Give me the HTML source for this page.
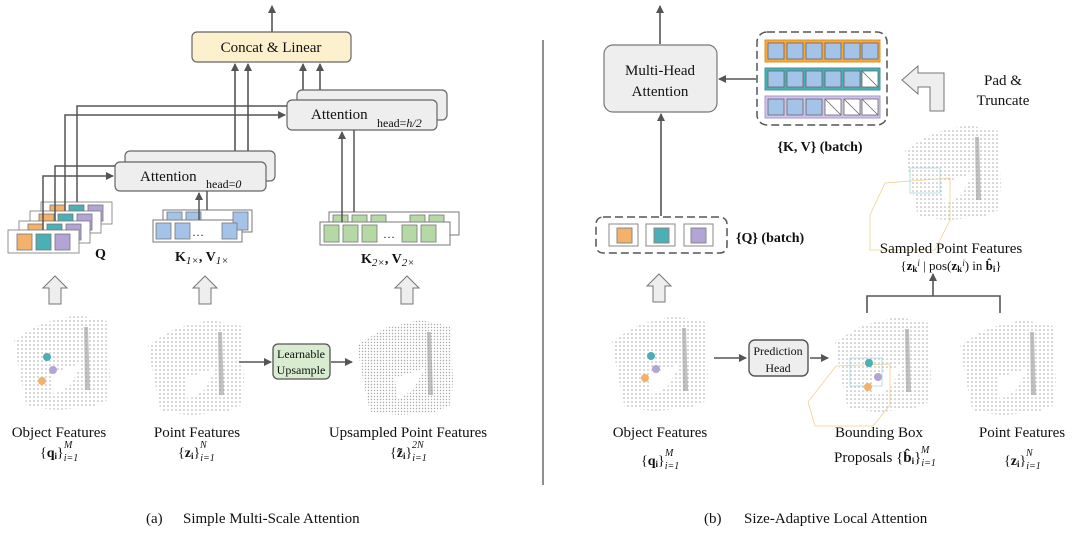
<!DOCTYPE html>
<html><head><meta charset="utf-8"><style>
body{margin:0;background:#fff}
svg{display:block}
text{font-family:"Liberation Serif",serif;fill:#111;white-space:pre}
</style></head><body>
<svg width="1080" height="533" viewBox="0 0 1080 533" xmlns="http://www.w3.org/2000/svg" xml:space="preserve">
<defs>
<marker id="ah" markerWidth="8" markerHeight="8" refX="7" refY="4" orient="auto" markerUnits="userSpaceOnUse"><path d="M0,0 L8,4 L0,8 z" fill="#555"/></marker>
<pattern id="dots" width="4" height="4" patternUnits="userSpaceOnUse"><circle cx="2" cy="2" r="0.8" fill="#aaa"/></pattern>
<pattern id="dots2" width="3" height="3" patternUnits="userSpaceOnUse"><circle cx="1.5" cy="1.5" r="0.7" fill="#aaa"/></pattern>
<g id="cloud">
<path d="M2,25 L30,8 L65,0 L95,6 L98,60 L96,85 L80,92 L45,95 L15,92 L8,60 Z" fill="url(#dots)"/>
<path d="M40,58 L70,48 L58,70 L42,80 Z" fill="#fff"/>
<path d="M72,12 L76,12 L78,75 L73,75 Z" fill="#999" opacity=".6"/>
</g>
<g id="cloud2">
<path d="M2,25 L30,8 L65,0 L95,6 L98,60 L96,85 L80,92 L45,95 L15,92 L8,60 Z" fill="url(#dots2)"/>
<path d="M40,58 L70,48 L58,70 L42,80 Z" fill="#fff"/>
<path d="M72,12 L76,12 L78,75 L73,75 Z" fill="#999" opacity=".6"/>
</g>
<g id="bigarrow"><path d="M-6,28 L-6,12 L-12,12 L0,0 L12,12 L6,12 L6,28 Z" fill="#eee" stroke="#777" stroke-width="1"/></g>
</defs>

<g stroke="#555" stroke-width="1.6" fill="none">
<line x1="272" y1="32" x2="272" y2="6" marker-end="url(#ah)"/>
<line x1="235" y1="155" x2="235" y2="64" marker-end="url(#ah)"/>
<line x1="248" y1="151" x2="248" y2="64" marker-end="url(#ah)"/>
<line x1="303" y1="100" x2="303" y2="64" marker-end="url(#ah)"/>
<line x1="320" y1="90" x2="320" y2="64" marker-end="url(#ah)"/>
</g>
<rect x="192" y="32" width="159" height="30" rx="5" fill="#fdf0cc" stroke="#666" stroke-width="1.2"/>
<text x="271" y="52" font-size="15" text-anchor="middle">Concat &amp; Linear</text>

<rect x="297" y="90" width="150" height="30" rx="5" fill="#eee" stroke="#666" stroke-width="1.2"/>
<rect x="287" y="100" width="150" height="30" rx="5" fill="#eee" stroke="#666" stroke-width="1.2"/>
<text x="311" y="119" font-size="15">Attention</text><text x="377" y="127" font-size="12">head=<tspan font-style="italic">h/2</tspan></text>
<rect x="125" y="151" width="150" height="30" rx="5" fill="#eee" stroke="#666" stroke-width="1.2"/>
<rect x="115" y="162" width="151" height="29" rx="5" fill="#eee" stroke="#666" stroke-width="1.2"/>
<text x="140" y="181" font-size="15">Attention</text><text x="206" y="188" font-size="12">head=<tspan font-style="italic">0</tspan></text>

<!-- Q stacks -->
<g stroke="#777" stroke-width="0.8">
<rect x="41" y="202" width="71" height="22" fill="#fff"/>
<rect x="50" y="205" width="15" height="16" fill="#f4b16c"/><rect x="69" y="205" width="15" height="16" fill="#4bafb6"/><rect x="88" y="205" width="15" height="16" fill="#b3a3d6"/>
<rect x="30" y="211" width="71" height="22" fill="#fff"/>
<rect x="39" y="214" width="15" height="16" fill="#f4b16c"/><rect x="58" y="214" width="15" height="16" fill="#4bafb6"/><rect x="77" y="214" width="15" height="16" fill="#b3a3d6"/>
<rect x="19" y="221" width="71" height="22" fill="#fff"/>
<rect x="28" y="224" width="15" height="16" fill="#f4b16c"/><rect x="47" y="224" width="15" height="16" fill="#4bafb6"/><rect x="66" y="224" width="15" height="16" fill="#b3a3d6"/>
<rect x="8" y="230" width="71" height="23" fill="#fff"/>
<rect x="17" y="234" width="15" height="16" fill="#f4b16c"/><rect x="36" y="234" width="15" height="16" fill="#4bafb6"/><rect x="55" y="234" width="15" height="16" fill="#b3a3d6"/>
</g>
<g stroke="#555" stroke-width="1.5" fill="none">
<path d="M43,230 L43,176 L113,176" marker-end="url(#ah)"/>
<path d="M55,221 L55,166 L115,166"/>
<path d="M65,211 L65,115 L285,115" marker-end="url(#ah)"/>
<path d="M77,202 L77,106 L287,106"/>
</g>
<text x="95" y="258" font-size="14" font-weight="bold">Q</text>

<rect x="163" y="210" width="89" height="22" fill="#fff" stroke="#777"/>
<rect x="153" y="220" width="89" height="22" fill="#fff" stroke="#777"/>
<g fill="#a3c4e8" stroke="#777" stroke-width="0.8">
<rect x="167" y="212" width="15" height="8"/><rect x="186" y="212" width="15" height="8"/><rect x="233" y="212" width="15" height="18"/>
<rect x="156" y="223" width="15" height="16"/><rect x="175" y="223" width="15" height="16"/><rect x="222" y="223" width="15" height="16"/>
</g>
<text x="198" y="236" font-size="12" text-anchor="middle">…</text>
<g stroke="#555" stroke-width="1.5"><line x1="199" y1="220" x2="199" y2="193" marker-end="url(#ah)"/><line x1="207" y1="210" x2="207" y2="191"/></g>
<text x="175" y="261" font-size="14" font-weight="bold">K<tspan font-size="11" font-style="italic" font-weight="normal" dy="3">1×</tspan><tspan dy="-3">, V</tspan><tspan font-size="11" font-style="italic" font-weight="normal" dy="3">1×</tspan></text>

<rect x="329" y="212" width="130" height="23" fill="#fff" stroke="#777"/>
<rect x="320" y="222" width="130" height="23" fill="#fff" stroke="#777"/>
<g fill="#b5d9a5" stroke="#777" stroke-width="0.8">
<rect x="333" y="215" width="15" height="7"/><rect x="352" y="215" width="15" height="7"/><rect x="371" y="215" width="15" height="7"/><rect x="410" y="215" width="15" height="7"/><rect x="429" y="215" width="15" height="7"/>
<rect x="324" y="225" width="15" height="17"/><rect x="343" y="225" width="15" height="17"/><rect x="362" y="225" width="15" height="17"/><rect x="402" y="225" width="15" height="17"/><rect x="421" y="225" width="15" height="17"/>
</g>
<text x="389" y="238" font-size="12" text-anchor="middle">…</text>
<g stroke="#555" stroke-width="1.5"><line x1="342" y1="222" x2="342" y2="132" marker-end="url(#ah)"/><line x1="354" y1="212" x2="354" y2="130"/></g>
<text x="361" y="263" font-size="14" font-weight="bold">K<tspan font-size="11" font-style="italic" font-weight="normal" dy="3">2×</tspan><tspan dy="-3">, V</tspan><tspan font-size="11" font-style="italic" font-weight="normal" dy="3">2×</tspan></text>

<use href="#bigarrow" x="55" y="276"/>
<use href="#bigarrow" x="205" y="276"/>
<use href="#bigarrow" x="407" y="276"/>
<use href="#bigarrow" x="659" y="274"/>

<use href="#cloud" x="12" y="315"/>
<circle cx="47" cy="357" r="4" fill="#4bafb6"/><circle cx="53" cy="370" r="4" fill="#b3a3d6"/><circle cx="42" cy="381" r="4" fill="#f4b16c"/>
<use href="#cloud" x="146" y="320"/>
<use href="#cloud2" x="355" y="320"/>
<g stroke="#555" stroke-width="1.5"><line x1="239" y1="362" x2="271" y2="362" marker-end="url(#ah)"/><line x1="331" y1="362" x2="352" y2="362" marker-end="url(#ah)"/></g>
<rect x="273" y="344" width="57" height="35" rx="5" fill="#d8ecd0" stroke="#555" stroke-width="1.3"/>
<text x="301" y="358" font-size="12" text-anchor="middle">Learnable</text>
<text x="301" y="374" font-size="12" text-anchor="middle">Upsample</text>

<text x="59" y="437" font-size="15" text-anchor="middle">Object Features</text>
<text x="40" y="457" font-size="14">{<tspan font-weight="bold">q</tspan><tspan font-size="9" font-weight="bold" dy="2">i</tspan><tspan dy="-2">}</tspan><tspan font-size="10" font-style="italic" dy="4">i=1</tspan></text>
<text x="64" y="448" font-size="10" font-style="italic">M</text>
<text x="197" y="437" font-size="15" text-anchor="middle">Point Features</text>
<text x="178" y="457" font-size="14">{<tspan font-weight="bold">z</tspan><tspan font-size="9" font-weight="bold" dy="2">i</tspan><tspan dy="-2">}</tspan><tspan font-size="10" font-style="italic" dy="4">i=1</tspan></text>
<text x="200" y="448" font-size="10" font-style="italic">N</text>
<text x="408" y="437" font-size="15" text-anchor="middle">Upsampled Point Features</text>
<text x="390" y="457" font-size="14">{<tspan font-weight="bold">z̃</tspan><tspan font-size="9" font-weight="bold" dy="2">i</tspan><tspan dy="-2">}</tspan><tspan font-size="10" font-style="italic" dy="4">i=1</tspan></text>
<text x="412" y="448" font-size="10" font-style="italic">2N</text>
<text x="146" y="523" font-size="15">(a)</text><text x="183" y="523" font-size="15">Simple Multi-Scale Attention</text>

<line x1="543" y1="40" x2="543" y2="485" stroke="#555" stroke-width="1.3"/>

<g stroke="#555" stroke-width="1.6" fill="none">
<line x1="660" y1="44" x2="660" y2="6" marker-end="url(#ah)"/>
<line x1="661" y1="216" x2="661" y2="114" marker-end="url(#ah)"/>
<line x1="756" y1="79" x2="719" y2="79" marker-end="url(#ah)"/>
<path d="M867,313 L867,296 L1000,296 L1000,313"/>
<line x1="933" y1="296" x2="933" y2="274" marker-end="url(#ah)"/>
<line x1="714" y1="358" x2="746" y2="358" marker-end="url(#ah)"/>
<line x1="810" y1="358" x2="828" y2="358" marker-end="url(#ah)"/>
</g>
<rect x="604" y="45" width="113" height="67" rx="9" fill="#eee" stroke="#777" stroke-width="1.2"/>
<text x="660" y="75" font-size="15" text-anchor="middle">Multi-Head</text>
<text x="660" y="96" font-size="15" text-anchor="middle">Attention</text>

<rect x="757" y="32" width="130" height="93" rx="10" fill="none" stroke="#555" stroke-width="1.5" stroke-dasharray="8,4"/>
<rect x="765" y="40" width="115" height="22" fill="#f7a93b" stroke="#e29020"/>
<rect x="765" y="68" width="115" height="22" fill="#4bafb6" stroke="#3a9aa0"/>
<rect x="765" y="96" width="115" height="22" fill="#d0c4ea" stroke="#a897d0"/>
<g stroke="#666" stroke-width="0.8">
<g fill="#a3c4e8">
<rect x="768" y="43" width="16" height="16"/><rect x="787" y="43" width="16" height="16"/><rect x="806" y="43" width="16" height="16"/><rect x="825" y="43" width="16" height="16"/><rect x="844" y="43" width="16" height="16"/><rect x="862" y="43" width="16" height="16"/>
<rect x="768" y="71" width="16" height="16"/><rect x="787" y="71" width="16" height="16"/><rect x="806" y="71" width="16" height="16"/><rect x="825" y="71" width="16" height="16"/><rect x="844" y="71" width="16" height="16"/>
<rect x="768" y="99" width="16" height="16"/><rect x="787" y="99" width="16" height="16"/><rect x="806" y="99" width="16" height="16"/>
</g>
<g fill="#fff">
<rect x="862" y="71" width="16" height="16"/><path d="M862,71 L878,87"/>
<rect x="825" y="99" width="16" height="16"/><path d="M825,99 L841,115"/>
<rect x="844" y="99" width="16" height="16"/><path d="M844,99 L860,115"/>
<rect x="862" y="99" width="16" height="16"/><path d="M862,99 L878,115"/>
</g>
</g>
<text x="820" y="151" font-size="14" font-weight="bold" text-anchor="middle">{K, V} (batch)</text>
<path d="M944,111 L944,73 L918,73 L918,66 L902,80 L918,94 L918,87 L930,87 L930,111 Z" fill="#eee" stroke="#777"/>
<text x="1003" y="85" font-size="15" text-anchor="middle">Pad &amp;</text>
<text x="1003" y="105" font-size="15" text-anchor="middle">Truncate</text>

<rect x="596" y="217" width="131" height="36" rx="7" fill="none" stroke="#555" stroke-width="1.5" stroke-dasharray="8,4"/>
<g stroke="#888" stroke-width="1"><rect x="609" y="224" width="29" height="22" fill="#fff"/><rect x="646" y="224" width="29" height="22" fill="#fff"/><rect x="684" y="224" width="29" height="22" fill="#fff"/>
<rect x="617" y="228" width="15" height="15" fill="#f4b16c"/><rect x="654" y="228" width="15" height="15" fill="#4bafb6"/><rect x="691" y="228" width="15" height="15" fill="#b3a3d6"/></g>
<text x="736" y="242" font-size="14" font-weight="bold">{Q} (batch)</text>

<use href="#cloud" x="903" y="125"/>
<path d="M870,215 L885,183 L950,178 L950,220 L935,250 L870,250 Z" fill="none" stroke="#f1cf90" stroke-width="0.8"/>
<rect x="910" y="168" width="30" height="25" fill="none" stroke="#a7dbe0" stroke-width="0.8"/>
<text x="951" y="253" font-size="15" text-anchor="middle">Sampled Point Features</text>
<text x="951" y="270" font-size="13" text-anchor="middle">{<tspan font-weight="bold">z</tspan><tspan font-size="9" font-weight="bold" dy="2">k</tspan><tspan font-size="9" font-style="italic" dy="-6">i</tspan><tspan dy="4"> | pos(</tspan><tspan font-weight="bold">z</tspan><tspan font-size="9" font-weight="bold" dy="2">k</tspan><tspan font-size="9" font-style="italic" dy="-6">i</tspan><tspan dy="4">) in </tspan><tspan font-weight="bold">b̂</tspan><tspan font-size="9" font-weight="bold" dy="2">i</tspan><tspan dy="-2">}</tspan></text>

<use href="#cloud" x="610" y="316"/>
<circle cx="651" cy="356" r="4" fill="#4bafb6"/><circle cx="656" cy="369" r="4" fill="#b3a3d6"/><circle cx="645" cy="378" r="4" fill="#f4b16c"/>
<use href="#cloud" x="833" y="317"/>
<path d="M808,402 L836,366 L890,364 L890,405 L873,426 L815,426 Z" fill="none" stroke="#f1cf90" stroke-width="0.8"/>
<rect x="850" y="358" width="32" height="28" fill="none" stroke="#a7dbe0" stroke-width="0.8"/>
<circle cx="869" cy="363" r="4" fill="#4bafb6"/><circle cx="878" cy="377" r="4" fill="#b3a3d6"/><circle cx="868" cy="387" r="4" fill="#f4b16c"/>
<use href="#cloud" x="958" y="320"/>
<rect x="749" y="340" width="59" height="36" rx="6" fill="#eee" stroke="#555" stroke-width="1.4"/>
<text x="778" y="355" font-size="12" text-anchor="middle">Prediction</text>
<text x="778" y="372" font-size="12" text-anchor="middle">Head</text>

<text x="660" y="437" font-size="15" text-anchor="middle">Object Features</text>
<text x="641" y="465" font-size="14">{<tspan font-weight="bold">q</tspan><tspan font-size="9" font-weight="bold" dy="2">i</tspan><tspan dy="-2">}</tspan><tspan font-size="10" font-style="italic" dy="4">i=1</tspan></text>
<text x="665" y="456" font-size="10" font-style="italic">M</text>
<text x="879" y="437" font-size="15" text-anchor="middle">Bounding Box</text>
<text x="834" y="462" font-size="15">Proposals {<tspan font-weight="bold">b̂</tspan><tspan font-size="9" font-weight="bold" dy="2">i</tspan><tspan dy="-2">}</tspan><tspan font-size="10" font-style="italic" dy="4">i=1</tspan></text>
<text x="921" y="453" font-size="10" font-style="italic">M</text>
<text x="1022" y="437" font-size="15" text-anchor="middle">Point Features</text>
<text x="1004" y="465" font-size="14">{<tspan font-weight="bold">z</tspan><tspan font-size="9" font-weight="bold" dy="2">i</tspan><tspan dy="-2">}</tspan><tspan font-size="10" font-style="italic" dy="4">i=1</tspan></text>
<text x="1026" y="456" font-size="10" font-style="italic">N</text>
<text x="704" y="523" font-size="15">(b)</text><text x="744" y="523" font-size="15">Size-Adaptive Local Attention</text>
</svg>
</body></html>
